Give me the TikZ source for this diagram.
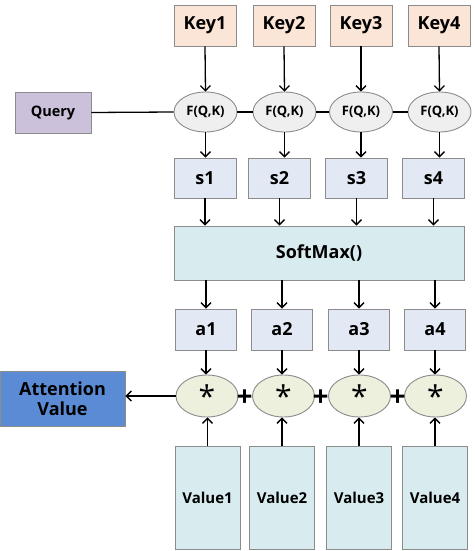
\documentclass[tikz,border=0pt]{standalone}
\usepackage{fontspec}
\setmainfont{Open Sans}
\usetikzlibrary{arrows.meta,shapes.geometric}
\definecolor{keyfill}{HTML}{FBE5D6}
\definecolor{qfill}{HTML}{CCC1DA}
\definecolor{sfill}{HTML}{E3E9F4}
\definecolor{cyanfill}{HTML}{D8ECF0}
\definecolor{ffill}{HTML}{EFEFEF}
\definecolor{mfill}{HTML}{ECF0DC}
\definecolor{attfill}{HTML}{5A8BD4}
\definecolor{edge}{HTML}{8C8C8C}
\tikzset{
  box/.style={draw=edge, line width=0.9pt, inner sep=0pt, font=\bfseries},
  keybox/.style={box, fill=keyfill, minimum width=62pt, minimum height=41pt, font=\bfseries\fontsize{18}{20}\selectfont},
  sbox/.style={box, fill=sfill, minimum width=62pt, minimum height=40pt, font=\bfseries\fontsize{18}{20}\selectfont},
  valbox/.style={box, fill=cyanfill, minimum width=65pt, minimum height=103pt, font=\bfseries\fontsize{15}{17}\selectfont},
  fell/.style={ellipse, draw=edge, line width=0.9pt, fill=ffill, minimum width=63pt, minimum height=40pt, inner sep=0pt, font=\bfseries\fontsize{13}{15}\selectfont},
  mell/.style={ellipse, draw=edge, line width=0.9pt, fill=mfill, minimum width=62pt, minimum height=42pt, inner sep=0pt, font=\fontsize{30}{30}\selectfont},
  plus/.style={inner sep=0pt, font=\bfseries\fontsize{28}{28}\selectfont},
  conn/.style={line width=1.3pt, black},
  arr/.style={conn, -{Straight Barb[length=5pt,width=10pt]}},
}
\begin{document}
\begin{tikzpicture}[x=1pt,y=-1pt]
\useasboundingbox (0,0) rectangle (474,551);
% keys
\node[keybox] (k1) at (205,25.5) {Key1};
\node[keybox] (k2) at (284,25.5) {Key2};
\node[keybox] (k3) at (361,25.5) {Key3};
\node[keybox] (k4) at (439,25.5) {Key4};
% F ellipses
\node[fell] (f1) at (205.5,112) {F(Q,K)};
\node[fell] (f2) at (284.5,112) {F(Q,K)};
\node[fell] (f3) at (361,112) {F(Q,K)};
\node[fell] (f4) at (439.5,112) {F(Q,K)};
% query
\node[box, fill=qfill, minimum width=76pt, minimum height=41pt, font=\bfseries\fontsize{14.5}{16}\selectfont] (q) at (53,112.5) {Query};
% s boxes
\node[sbox] (s1) at (205,178) {s1};
\node[sbox] (s2) at (279.5,178) {s2};
\node[sbox] (s3) at (356.5,178) {s3};
\node[sbox] (s4) at (433.5,178) {s4};
% softmax
\node[box, fill=cyanfill, minimum width=290pt, minimum height=54pt, font=\bfseries\fontsize{18}{20}\selectfont] (sm) at (319,253) {SoftMax()};
% a boxes
\node[sbox, minimum width=61pt, minimum height=41pt] (a1) at (206,329.5) {a1};
\node[sbox, minimum width=61pt, minimum height=41pt] (a2) at (282,329.5) {a2};
\node[sbox, minimum width=61pt, minimum height=41pt] (a3) at (359,329.5) {a3};
\node[sbox, minimum width=61pt, minimum height=41pt] (a4) at (435,329.5) {a4};
% multiply ellipses
\node[mell] (m1) at (207,396) {\raisebox{-4pt}{*}};
\node[mell] (m2) at (283.5,396) {\raisebox{-4pt}{*}};
\node[mell] (m3) at (359.5,396) {\raisebox{-4pt}{*}};
\node[mell] (m4) at (435.5,396) {\raisebox{-4pt}{*}};
% plus signs
\node[plus] (p1) at (244.5,398) {+};
\node[plus] (p2) at (320.5,398) {+};
\node[plus] (p3) at (397.5,398) {+};
% values
\node[valbox] (v1) at (207.5,497.5) {Value1};
\node[valbox] (v2) at (282,497.5) {Value2};
\node[valbox] (v3) at (359,497.5) {Value3};
\node[valbox] (v4) at (435,497.5) {Value4};
% attention
\node[box, fill=attfill, minimum width=125pt, minimum height=55pt, align=center, font=\bfseries\fontsize{18}{20}\selectfont] (att) at (62.5,398.5) {Attention\\Value};
% connectors
\foreach \i in {1,2,3,4}{
  \draw[arr] (k\i.south) -- (f\i.north);
  \draw[arr] (f\i.south) -- (f\i.south |- s\i.north);
  \draw[arr] (s\i.south) -- (s\i.south |- sm.north);
  \draw[arr] (a\i.north |- sm.south) -- (a\i.north);
  \draw[arr] (a\i.south) -- (a\i.south |- m\i.north);
  \draw[arr] (v\i.north) -- (v\i.north |- m\i.south);
}
\draw[conn] (q.east) -- (f1.west);
\draw[conn] (f1.east) -- (f2.west);
\draw[conn] (f2.east) -- (f3.west);
\draw[conn] (f3.east) -- (f4.west);
\draw[arr] (m1.west) -- (m1.west -| att.east);
\end{tikzpicture}
\end{document}
